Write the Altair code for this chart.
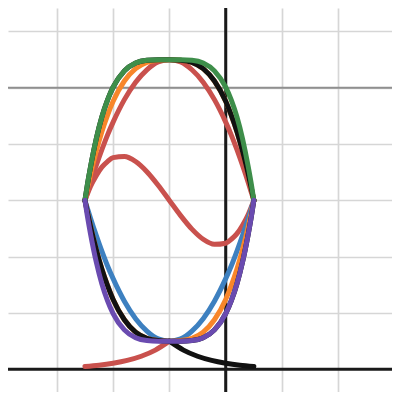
import altair as alt
import pandas as pd

# shared x positions for the closed "egg" curves
x_arc = [-2.5, -2.45, -2.4, -2.3, -2.2, -2.1, -2.0, -1.8, -1.6, -1.4, -1.2, -1.0,
         -0.8, -0.6, -0.4, -0.2, 0.0, 0.1, 0.2, 0.3, 0.4, 0.45, 0.5]

red_top = [3.0, 3.16, 3.32, 3.62, 3.9, 4.16, 4.39, 4.79, 5.1, 5.32, 5.46, 5.5,
           5.46, 5.32, 5.1, 4.79, 4.39, 4.16, 3.9, 3.62, 3.32, 3.16, 3.0]
red_wave = [3.0, 3.13, 3.25, 3.44, 3.59, 3.69, 3.76, 3.78, 3.69, 3.51, 3.27, 3.0,
            2.73, 2.49, 2.31, 2.22, 2.24, 2.31, 2.41, 2.56, 2.75, 2.87, 3.0]
blue_bottom = [3.0, 2.84, 2.68, 2.38, 2.1, 1.84, 1.61, 1.21, 0.9, 0.68, 0.54, 0.5,
               0.54, 0.68, 0.9, 1.21, 1.61, 1.84, 2.1, 2.38, 2.68, 2.84, 3.0]
orange_top = [3.0, 3.24, 3.47, 3.87, 4.22, 4.51, 4.76, 5.12, 5.34, 5.45, 5.49, 5.5,
              5.49, 5.45, 5.34, 5.12, 4.76, 4.51, 4.22, 3.87, 3.47, 3.24, 3.0]
orange_bottom = [3.0, 2.76, 2.53, 2.13, 1.78, 1.49, 1.24, 0.88, 0.66, 0.55, 0.51, 0.5,
                 0.51, 0.55, 0.66, 0.88, 1.24, 1.49, 1.78, 2.13, 2.53, 2.76, 3.0]
black_top = [3.0, 3.32, 3.6, 4.09, 4.48, 4.78, 5.01, 5.3, 5.44, 5.49, 5.5, 5.5,
             5.49, 5.45, 5.34, 5.12, 4.76, 4.51, 4.22, 3.87, 3.47, 3.24, 3.0]
black_bottom = [3.0, 2.76, 2.53, 2.13, 1.78, 1.49, 1.24, 0.88, 0.66, 0.55, 0.51, 0.5,
                0.5, 0.51, 0.56, 0.7, 0.99, 1.22, 1.52, 1.91, 2.4, 2.68, 3.0]
green_top = [3.0, 3.32, 3.6, 4.09, 4.48, 4.78, 5.01, 5.3, 5.44, 5.49, 5.5, 5.5,
             5.5, 5.49, 5.44, 5.3, 5.01, 4.78, 4.48, 4.09, 3.6, 3.32, 3.0]
purple_bottom = [3.0, 2.68, 2.4, 1.91, 1.52, 1.22, 0.99, 0.7, 0.56, 0.51, 0.5, 0.5,
                 0.5, 0.51, 0.56, 0.7, 0.99, 1.22, 1.52, 1.91, 2.4, 2.68, 3.0]

# the two small tails near the x-axis
x_tail_left = [-2.5, -2.25, -2.0, -1.75, -1.5, -1.25, -1.0]
red_tail = [0.05, 0.073, 0.108, 0.158, 0.232, 0.341, 0.5]
x_tail_right = [-1.0, -0.75, -0.5, -0.25, 0.0, 0.25, 0.5]
black_tail = [0.5, 0.341, 0.232, 0.158, 0.108, 0.073, 0.05]

grid_x = [-3, -2, -1, 0, 1, 2, 3]
grid_y = [0, 1, 2, 3, 4, 5, 6]

# plot area sits 8px inside the page, so the domain is the visible window
xs = alt.Scale(domain=[-3.867, 2.954], nice=False, zero=False)
ys = alt.Scale(domain=[-0.403, 6.417], nice=False, zero=False)
ax_x = alt.Axis(values=grid_x, grid=True, labels=False, ticks=False, domain=False,
                title="", gridColor="#d6d6d6", gridWidth=1.7)
ax_y = alt.Axis(values=grid_y, grid=True, labels=False, ticks=False, domain=False,
                title="", gridColor="#d6d6d6", gridWidth=1.7)


def curve(xv, yv, color):
    df = pd.DataFrame({"x": xv, "y": yv})
    return alt.Chart(df).mark_line(
        color=color, strokeWidth=5, interpolate="monotone",
        strokeCap="round", strokeJoin="round", clip=True
    ).encode(
        x=alt.X("x:Q", scale=xs, axis=ax_x),
        y=alt.Y("y:Q", scale=ys, axis=ax_y)
    )


# gray line at y = 5 and the two axes
gray_line = alt.Chart(pd.DataFrame({"y": [5]})).mark_rule(
    color="#8f8f8f", strokeWidth=2
).encode(y=alt.Y("y:Q", scale=ys, axis=ax_y))
x_axis = alt.Chart(pd.DataFrame({"y": [0]})).mark_rule(
    color="#1a1a1a", strokeWidth=3
).encode(y=alt.Y("y:Q", scale=ys, axis=ax_y))
y_axis = alt.Chart(pd.DataFrame({"x": [0]})).mark_rule(
    color="#1a1a1a", strokeWidth=3
).encode(x=alt.X("x:Q", scale=xs, axis=ax_x))

RED, BLUE, ORANGE = "#c9514d", "#3d80c0", "#f8862a"
BLACK, GREEN, PURPLE = "#111111", "#3e8e4a", "#6a4bb0"

chart = alt.layer(
    gray_line, x_axis, y_axis,
    curve(x_arc, red_top, RED),
    curve(x_arc, red_wave, RED),
    curve(x_tail_left, red_tail, RED),
    curve(x_arc, blue_bottom, BLUE),
    curve(x_arc, orange_top, ORANGE),
    curve(x_arc, orange_bottom, ORANGE),
    curve(x_arc, black_top, BLACK),
    curve(x_arc, black_bottom, BLACK),
    curve(x_tail_right, black_tail, BLACK),
    curve(x_arc, green_top, GREEN),
    curve(x_arc, purple_bottom, PURPLE),
).properties(
    width=384, height=384, padding=0, autosize="none"
).configure_view(strokeWidth=0)

chart.save("out.html", embed_options={"renderer": "svg", "actions": False})
